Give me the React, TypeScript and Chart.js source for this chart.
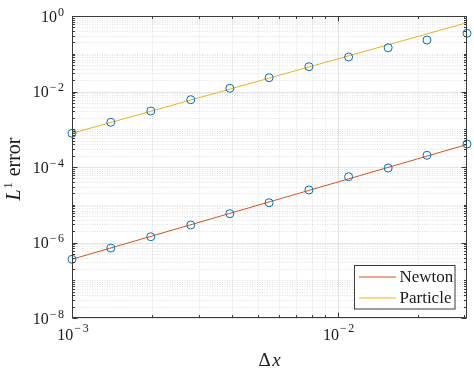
import React, { useEffect, useRef } from "react";
import { Chart, registerables } from "chart.js";

Chart.register(...registerables);

// ---- data ----
const DX = [0.001, 0.0014, 0.00198, 0.0028, 0.00393, 0.00552, 0.0078, 0.011, 0.0155, 0.0217, 0.0307];
const NEWTON_PTS = [3.59e-7, 7.14e-7, 1.42e-6, 2.91e-6, 5.8e-6, 1.13e-5, 2.46e-5, 5.53e-5, 9.4e-5, 2.04e-4, 4.06e-4];
const PARTICLE_PTS = [7.8e-4, 1.53e-3, 3.04e-3, 6.07e-3, 1.216e-2, 2.32e-2, 4.54e-2, 8.2e-2, 0.1445, 0.231, 0.348];
const LINE_X = [0.001, 0.0307];
const NEWTON_LINE = [3.6e-7, 3.95e-4];
const PARTICLE_LINE = [7.8e-4, 0.665];
const SERIES = ["Newton", "Particle"];
const X_TICKS = [1e-3, 1e-2];
const Y_TICKS = [1e-8, 1e-6, 1e-4, 1e-2, 1];
const X_RANGE = [0.001, 0.0307];
const Y_RANGE = [1e-8, 1];

const C_NEWTON = "#D95319";
const C_PARTICLE = "#EDB120";
const C_MARK = "#0072BD";
const AX = "#3a3a3a";
const SERIF = '"Liberation Serif", "DejaVu Serif", serif';

function minorValues(min: number, max: number) {
  const out: number[] = [];
  const lo = Math.floor(Math.log10(min));
  const hi = Math.ceil(Math.log10(max));
  for (let e = lo; e <= hi; e++) {
    for (let m = 1; m <= 9; m++) {
      const v = m * Math.pow(10, e);
      if (v >= min * 0.9999 && v <= max * 1.0001) out.push(v);
    }
  }
  return out;
}

function drawPow(ctx: CanvasRenderingContext2D, exp: number, x: number, baseY: number, supY: number, align: "right" | "center") {
  const baseFont = `16px ${SERIF}`;
  const supFont = `12px ${SERIF}`;
  ctx.font = baseFont;
  const wBase = ctx.measureText("10").width;
  ctx.font = supFont;
  const neg = exp < 0;
  const digits = String(Math.abs(exp));
  const wMinus = neg ? ctx.measureText("\u2212").width + 1.5 : 0;
  const wDig = ctx.measureText(digits).width;
  const total = wBase + 1 + wMinus + wDig;
  const start = align === "right" ? x - total : x - total / 2;
  ctx.fillStyle = "#1a1a1a";
  ctx.textAlign = "left";
  ctx.textBaseline = "alphabetic";
  ctx.font = baseFont;
  ctx.fillText("10", start, baseY);
  ctx.font = supFont;
  let cx = start + wBase + 1;
  if (neg) {
    ctx.fillText("\u2212", cx, supY);
    cx += wMinus;
  }
  ctx.fillText(digits, cx, supY);
}

const decorPlugin = {
  id: "matlabDecor",
  beforeDatasetsDraw(chart: any) {
    const { ctx, chartArea: a, scales } = chart;
    const xs = scales.x;
    const ys = scales.y;
    ctx.save();
    ctx.lineWidth = 1;
    // minor grid (dotted)
    ctx.strokeStyle = "rgba(38,38,38,0.13)";
    ctx.setLineDash([1, 1.5]);
    for (const v of minorValues(X_RANGE[0], X_RANGE[1])) {
      if (X_TICKS.some((t) => Math.abs(t - v) / t < 1e-6)) continue;
      const px = Math.round(xs.getPixelForValue(v)) + 0.5;
      ctx.beginPath();
      ctx.moveTo(px, a.top);
      ctx.lineTo(px, a.bottom);
      ctx.stroke();
    }
    for (const v of minorValues(Y_RANGE[0], Y_RANGE[1])) {
      if (Y_TICKS.some((t) => Math.abs(t - v) / t < 1e-6)) continue;
      const py = Math.round(ys.getPixelForValue(v)) + 0.5;
      ctx.beginPath();
      ctx.moveTo(a.left, py);
      ctx.lineTo(a.right, py);
      ctx.stroke();
    }
    // major grid (solid)
    ctx.setLineDash([]);
    ctx.strokeStyle = "rgba(38,38,38,0.12)";
    for (const v of X_TICKS) {
      const px = Math.round(xs.getPixelForValue(v)) + 0.5;
      ctx.beginPath();
      ctx.moveTo(px, a.top);
      ctx.lineTo(px, a.bottom);
      ctx.stroke();
    }
    for (const v of Y_TICKS) {
      const py = Math.round(ys.getPixelForValue(v)) + 0.5;
      ctx.beginPath();
      ctx.moveTo(a.left, py);
      ctx.lineTo(a.right, py);
      ctx.stroke();
    }
    ctx.restore();
  },
  afterDraw(chart: any) {
    const { ctx, chartArea: a, scales } = chart;
    const xs = scales.x;
    const ys = scales.y;
    const L = Math.round(a.left) + 0.5;
    const R = Math.round(a.right) - 0.5;
    const T = Math.round(a.top) + 0.5;
    const B = Math.round(a.bottom) - 0.5;
    ctx.save();
    ctx.strokeStyle = AX;
    ctx.lineWidth = 1;
    ctx.setLineDash([]);
    ctx.strokeRect(L, T, R - L, B - T);
    // ticks inside, all four sides
    const tick = (isMajor: boolean) => (isMajor ? 5 : 2.5);
    for (const v of minorValues(X_RANGE[0], X_RANGE[1])) {
      const major = X_TICKS.some((t) => Math.abs(t - v) / t < 1e-6);
      const px = Math.round(xs.getPixelForValue(v)) + 0.5;
      const len = tick(major);
      ctx.beginPath();
      ctx.moveTo(px, B);
      ctx.lineTo(px, B - len);
      ctx.moveTo(px, T);
      ctx.lineTo(px, T + len);
      ctx.stroke();
    }
    for (const v of minorValues(Y_RANGE[0], Y_RANGE[1])) {
      const major = Y_TICKS.some((t) => Math.abs(t - v) / t < 1e-6);
      const py = Math.round(ys.getPixelForValue(v)) + 0.5;
      const len = tick(major);
      ctx.beginPath();
      ctx.moveTo(L, py);
      ctx.lineTo(L + len, py);
      ctx.moveTo(R, py);
      ctx.lineTo(R - len, py);
      ctx.stroke();
    }
    // tick labels
    for (const v of Y_TICKS) {
      const py = ys.getPixelForValue(v);
      drawPow(ctx, Math.round(Math.log10(v)), 64, py + 5.5, py - 0.5, "right");
    }
    for (const v of X_TICKS) {
      const px = xs.getPixelForValue(v);
      drawPow(ctx, Math.round(Math.log10(v)), px + 1, 340, 332, "center");
    }
    // x title: Δx
    ctx.fillStyle = "#1a1a1a";
    ctx.textBaseline = "alphabetic";
    ctx.textAlign = "left";
    const cxT = (a.left + a.right) / 2;
    ctx.font = `19px ${SERIF}`;
    const wD = ctx.measureText("\u0394").width;
    ctx.font = `italic 19px ${SERIF}`;
    const wx = ctx.measureText("x").width;
    const sx = cxT - (wD + wx + 1.5) / 2;
    ctx.font = `19px ${SERIF}`;
    ctx.fillText("\u0394", sx, 365.5);
    ctx.font = `italic 19px ${SERIF}`;
    ctx.fillText("x", sx + wD + 1.5, 365.5);
    // y title: L^1 error (rotated)
    ctx.save();
    ctx.translate(19.5, (a.top + a.bottom) / 2 + 2);
    ctx.rotate(-Math.PI / 2);
    ctx.font = `italic 20px ${SERIF}`;
    const wL = ctx.measureText("L").width;
    ctx.font = `13px ${SERIF}`;
    const w1 = ctx.measureText("1").width;
    ctx.font = `20px ${SERIF}`;
    const wE = ctx.measureText(" error").width;
    const tot = wL + 0.5 + w1 + 1 + wE;
    let tx = -tot / 2;
    ctx.font = `italic 20px ${SERIF}`;
    ctx.fillText("L", tx, 0);
    tx += wL + 0.5;
    ctx.font = `13px ${SERIF}`;
    ctx.fillText("1", tx, -7.5);
    tx += w1 + 1;
    ctx.font = `20px ${SERIF}`;
    ctx.fillText(" error", tx, 0);
    ctx.restore();
    // legend
    const lx = 354.5, ly = 265.5, lw = 100.5, lh = 43.5;
    ctx.fillStyle = "#ffffff";
    ctx.fillRect(lx, ly, lw, lh);
    ctx.strokeStyle = AX;
    ctx.strokeRect(lx, ly, lw, lh);
    const cols = [C_NEWTON, C_PARTICLE];
    const rows = [276.5, 297.5];
    SERIES.forEach((name, i) => {
      ctx.strokeStyle = cols[i];
      ctx.lineWidth = 1;
      ctx.beginPath();
      ctx.moveTo(359, rows[i] + 0.5);
      ctx.lineTo(396, rows[i] + 0.5);
      ctx.stroke();
      ctx.fillStyle = "#1a1a1a";
      ctx.font = `17px ${SERIF}`;
      ctx.textAlign = "left";
      ctx.textBaseline = "middle";
      ctx.fillText(name, 399.5, rows[i] + 1);
    });
    ctx.restore();
  },
};

export default function App() {
  const ref = useRef<HTMLCanvasElement | null>(null);
  useEffect(() => {
    if (!ref.current) return;
    const toPts = (xs: number[], ys: number[]) => xs.map((x, i) => ({ x, y: ys[i] }));
    const chart = new Chart(ref.current, {
      type: "scatter",
      data: {
        datasets: [
          {
            label: SERIES[0],
            data: toPts(LINE_X, NEWTON_LINE),
            showLine: true,
            borderColor: C_NEWTON,
            borderWidth: 1,
            pointRadius: 0,
            order: 2,
          },
          {
            label: SERIES[1],
            data: toPts(LINE_X, PARTICLE_LINE),
            showLine: true,
            borderColor: C_PARTICLE,
            borderWidth: 1,
            pointRadius: 0,
            order: 2,
          },
          {
            label: "Newton samples",
            data: toPts(DX, NEWTON_PTS),
            showLine: false,
            pointRadius: 4,
            pointBorderWidth: 1,
            pointBorderColor: C_MARK,
            pointBackgroundColor: "rgba(0,0,0,0)",
            clip: false,
            order: 1,
          },
          {
            label: "Particle samples",
            data: toPts(DX, PARTICLE_PTS),
            showLine: false,
            pointRadius: 4,
            pointBorderWidth: 1,
            pointBorderColor: C_MARK,
            pointBackgroundColor: "rgba(0,0,0,0)",
            clip: false,
            order: 1,
          },
        ] as any,
      },
      options: {
        animation: false,
        responsive: false,
        maintainAspectRatio: false,
        layout: { padding: { left: 0, top: 16, right: 7, bottom: 0 } },
        plugins: { legend: { display: false }, tooltip: { enabled: false } },
        scales: {
          x: {
            type: "logarithmic",
            min: X_RANGE[0],
            max: X_RANGE[1],
            grid: { display: false, drawTicks: false },
            border: { display: false },
            ticks: { display: false },
            afterFit: (s: any) => {
              s.height = 52;
            },
          },
          y: {
            type: "logarithmic",
            min: Y_RANGE[0],
            max: Y_RANGE[1],
            grid: { display: false, drawTicks: false },
            border: { display: false },
            ticks: { display: false },
            afterFit: (s: any) => {
              s.width = 72;
            },
          },
        } as any,
      },
      plugins: [decorPlugin as any],
    });
    return () => chart.destroy();
  }, []);
  return (
    <div style={{ position: "fixed", left: 0, top: 0, width: 474, height: 370, background: "#fff" }}>
      <canvas ref={ref} width={474} height={370} style={{ display: "block" }} />
    </div>
  );
}
